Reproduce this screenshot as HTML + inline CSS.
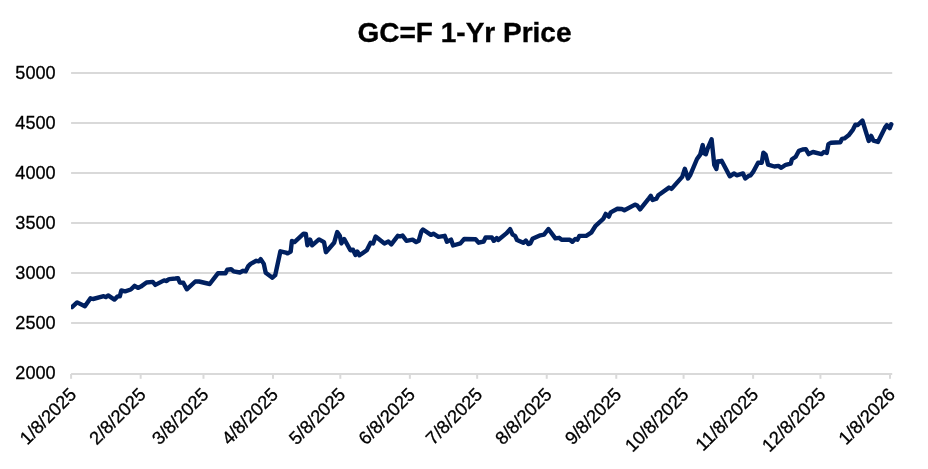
<!DOCTYPE html><html><head><meta charset="utf-8"><title>GC=F 1-Yr Price</title>
<style>html,body{margin:0;padding:0;background:#fff;}svg{display:block;}text{font-family:"Liberation Sans",Arial,sans-serif;fill:#000;}</style></head><body>
<svg width="928" height="469" viewBox="0 0 928 469">
<rect width="928" height="469" fill="#fff"/>
<line x1="71.10" y1="374.00" x2="892.22" y2="374.00" stroke="#d9d9d9" stroke-width="2"/>
<text x="55.6" y="379.20" font-size="18.1" text-anchor="end" stroke="#000" stroke-width="0.3">2000</text>
<line x1="71.10" y1="323.00" x2="892.22" y2="323.00" stroke="#d9d9d9" stroke-width="2"/>
<text x="55.6" y="328.60" font-size="18.1" text-anchor="end" stroke="#000" stroke-width="0.3">2500</text>
<line x1="71.10" y1="273.00" x2="892.22" y2="273.00" stroke="#d9d9d9" stroke-width="2"/>
<text x="55.6" y="278.60" font-size="18.1" text-anchor="end" stroke="#000" stroke-width="0.3">3000</text>
<line x1="71.10" y1="223.00" x2="892.22" y2="223.00" stroke="#d9d9d9" stroke-width="2"/>
<text x="55.6" y="228.60" font-size="18.1" text-anchor="end" stroke="#000" stroke-width="0.3">3500</text>
<line x1="71.10" y1="173.00" x2="892.22" y2="173.00" stroke="#d9d9d9" stroke-width="2"/>
<text x="55.6" y="178.60" font-size="18.1" text-anchor="end" stroke="#000" stroke-width="0.3">4000</text>
<line x1="71.10" y1="123.00" x2="892.22" y2="123.00" stroke="#d9d9d9" stroke-width="2"/>
<text x="55.6" y="128.60" font-size="18.1" text-anchor="end" stroke="#000" stroke-width="0.3">4500</text>
<line x1="71.10" y1="73.00" x2="892.22" y2="73.00" stroke="#d9d9d9" stroke-width="2"/>
<text x="55.6" y="78.60" font-size="18.1" text-anchor="end" stroke="#000" stroke-width="0.3">5000</text>
<line x1="71.10" y1="374.00" x2="71.10" y2="378.80" stroke="#d9d9d9" stroke-width="2"/>
<text x="77.30" y="395.70" font-size="18.2" text-anchor="end" stroke="#000" stroke-width="0.3" transform="rotate(-45 77.30 395.70)">1/8/2025</text>
<line x1="140.65" y1="374.00" x2="140.65" y2="378.80" stroke="#d9d9d9" stroke-width="2"/>
<text x="146.85" y="395.70" font-size="18.2" text-anchor="end" stroke="#000" stroke-width="0.3" transform="rotate(-45 146.85 395.70)">2/8/2025</text>
<line x1="203.47" y1="374.00" x2="203.47" y2="378.80" stroke="#d9d9d9" stroke-width="2"/>
<text x="209.67" y="395.70" font-size="18.2" text-anchor="end" stroke="#000" stroke-width="0.3" transform="rotate(-45 209.67 395.70)">3/8/2025</text>
<line x1="273.01" y1="374.00" x2="273.01" y2="378.80" stroke="#d9d9d9" stroke-width="2"/>
<text x="279.21" y="395.70" font-size="18.2" text-anchor="end" stroke="#000" stroke-width="0.3" transform="rotate(-45 279.21 395.70)">4/8/2025</text>
<line x1="340.32" y1="374.00" x2="340.32" y2="378.80" stroke="#d9d9d9" stroke-width="2"/>
<text x="346.52" y="395.70" font-size="18.2" text-anchor="end" stroke="#000" stroke-width="0.3" transform="rotate(-45 346.52 395.70)">5/8/2025</text>
<line x1="409.87" y1="374.00" x2="409.87" y2="378.80" stroke="#d9d9d9" stroke-width="2"/>
<text x="416.07" y="395.70" font-size="18.2" text-anchor="end" stroke="#000" stroke-width="0.3" transform="rotate(-45 416.07 395.70)">6/8/2025</text>
<line x1="477.17" y1="374.00" x2="477.17" y2="378.80" stroke="#d9d9d9" stroke-width="2"/>
<text x="483.37" y="395.70" font-size="18.2" text-anchor="end" stroke="#000" stroke-width="0.3" transform="rotate(-45 483.37 395.70)">7/8/2025</text>
<line x1="546.72" y1="374.00" x2="546.72" y2="378.80" stroke="#d9d9d9" stroke-width="2"/>
<text x="552.92" y="395.70" font-size="18.2" text-anchor="end" stroke="#000" stroke-width="0.3" transform="rotate(-45 552.92 395.70)">8/8/2025</text>
<line x1="616.27" y1="374.00" x2="616.27" y2="378.80" stroke="#d9d9d9" stroke-width="2"/>
<text x="622.47" y="395.70" font-size="18.2" text-anchor="end" stroke="#000" stroke-width="0.3" transform="rotate(-45 622.47 395.70)">9/8/2025</text>
<line x1="683.58" y1="374.00" x2="683.58" y2="378.80" stroke="#d9d9d9" stroke-width="2"/>
<text x="689.78" y="395.70" font-size="18.2" text-anchor="end" stroke="#000" stroke-width="0.3" transform="rotate(-45 689.78 395.70)">10/8/2025</text>
<line x1="753.12" y1="374.00" x2="753.12" y2="378.80" stroke="#d9d9d9" stroke-width="2"/>
<text x="759.32" y="395.70" font-size="18.2" text-anchor="end" stroke="#000" stroke-width="0.3" transform="rotate(-45 759.32 395.70)">11/8/2025</text>
<line x1="820.43" y1="374.00" x2="820.43" y2="378.80" stroke="#d9d9d9" stroke-width="2"/>
<text x="826.63" y="395.70" font-size="18.2" text-anchor="end" stroke="#000" stroke-width="0.3" transform="rotate(-45 826.63 395.70)">12/8/2025</text>
<line x1="889.98" y1="374.00" x2="889.98" y2="378.80" stroke="#d9d9d9" stroke-width="2"/>
<text x="896.18" y="395.70" font-size="18.2" text-anchor="end" stroke="#000" stroke-width="0.3" transform="rotate(-45 896.18 395.70)">1/8/2026</text>
<text x="464.5" y="42.3" font-size="28" font-weight="bold" text-anchor="middle" stroke="#000" stroke-width="0.35">GC=F 1-Yr Price</text>
<defs><clipPath id="plot"><rect x="71" y="60" width="823" height="320"/></clipPath></defs>
<polyline clip-path="url(#plot)" points="72.0,307.1 77.1,302.4 84.9,306.3 90.5,298.3 93.0,299.0 103.7,296.2 106.0,297.1 108.1,295.4 114.4,299.6 117.6,296.4 119.8,296.4 121.3,290.5 125.1,291.4 130.8,289.5 134.6,285.8 138.0,287.9 140.8,286.6 146.5,282.5 152.8,281.9 155.3,284.9 159.7,282.6 164.1,280.4 166.6,281.1 169.2,279.1 175.4,278.5 178.0,278.1 179.8,282.5 183.3,282.8 186.8,289.3 195.3,281.5 199.1,281.5 209.7,284.0 217.9,273.3 225.5,273.3 227.3,269.6 231.1,269.2 233.6,271.4 239.9,272.5 243.1,270.8 245.6,271.4 248.1,266.4 250.6,263.9 256.3,260.8 258.8,261.4 260.7,259.1 263.8,263.9 265.7,272.7 272.4,277.7 275.2,275.2 280.4,251.3 285.9,252.6 287.6,253.4 290.7,251.6 291.9,240.9 294.5,242.1 303.6,233.6 305.8,233.9 307.4,245.3 310.2,239.6 312.1,245.3 319.0,239.4 324.0,242.1 325.9,252.2 334.1,242.8 337.2,232.1 339.8,235.8 341.4,243.4 344.2,239.0 350.4,250.3 353.0,249.7 355.5,255.0 357.4,251.6 359.5,255.3 366.8,250.3 370.6,242.8 373.1,243.4 375.6,236.5 384.4,243.4 388.4,241.5 391.3,244.4 397.8,235.8 400.1,236.4 402.6,235.6 406.4,240.8 412.6,239.6 416.2,242.1 418.7,240.8 421.4,231.4 423.0,229.5 430.9,234.9 433.4,233.7 438.4,236.8 444.7,235.8 446.9,241.7 451.0,239.6 453.1,245.5 460.4,243.4 464.2,239.0 475.6,239.2 478.7,242.7 483.7,241.5 485.6,237.5 491.9,237.5 493.8,240.8 496.7,238.0 498.2,240.0 506.3,233.4 510.1,229.2 512.6,234.6 515.1,235.9 517.0,240.0 523.3,242.8 525.8,240.5 528.3,244.1 530.4,243.4 532.5,238.8 540.3,235.3 544.0,234.6 548.4,229.0 555.4,238.4 559.1,237.8 561.6,239.7 569.8,239.7 572.3,241.8 575.2,239.0 577.4,239.7 579.3,235.9 586.2,235.9 591.2,232.7 595.6,225.8 603.2,218.9 605.7,213.9 608.8,216.6 610.7,212.4 617.4,208.8 621.8,209.0 624.4,210.3 635.0,204.6 637.2,205.5 640.1,209.3 648.9,198.3 650.8,195.8 652.7,200.0 656.4,198.7 658.3,195.2 669.0,187.6 671.5,188.9 682.2,176.9 684.8,168.8 688.0,178.5 690.1,175.3 697.0,159.0 700.2,154.6 702.7,145.1 704.2,153.3 705.9,154.2 707.7,148.3 711.6,139.3 714.3,165.0 716.4,169.0 717.5,161.5 721.6,160.8 729.8,176.3 734.2,173.4 736.7,175.3 743.0,173.4 745.2,178.5 748.6,175.9 750.5,175.3 753.0,172.2 758.1,162.7 761.8,162.7 763.4,152.7 765.6,154.6 768.1,164.6 774.4,166.5 778.4,165.9 781.3,167.8 785.7,164.8 790.7,163.6 792.0,159.2 795.7,156.7 798.9,150.8 802.6,149.5 805.8,149.1 808.7,154.1 813.0,152.0 821.5,154.1 824.0,152.0 826.8,152.9 828.4,144.1 831.0,142.8 840.4,142.2 841.9,138.8 844.4,138.4 848.6,135.3 853.0,129.6 855.5,124.6 857.8,125.0 862.4,120.5 868.7,140.9 871.2,135.9 873.4,140.7 877.9,141.9 885.0,127.7 886.9,125.2 889.7,128.1 891.3,124.2" fill="none" stroke="#002060" stroke-width="4.4" stroke-linejoin="round" stroke-linecap="round"/>
</svg></body></html>
